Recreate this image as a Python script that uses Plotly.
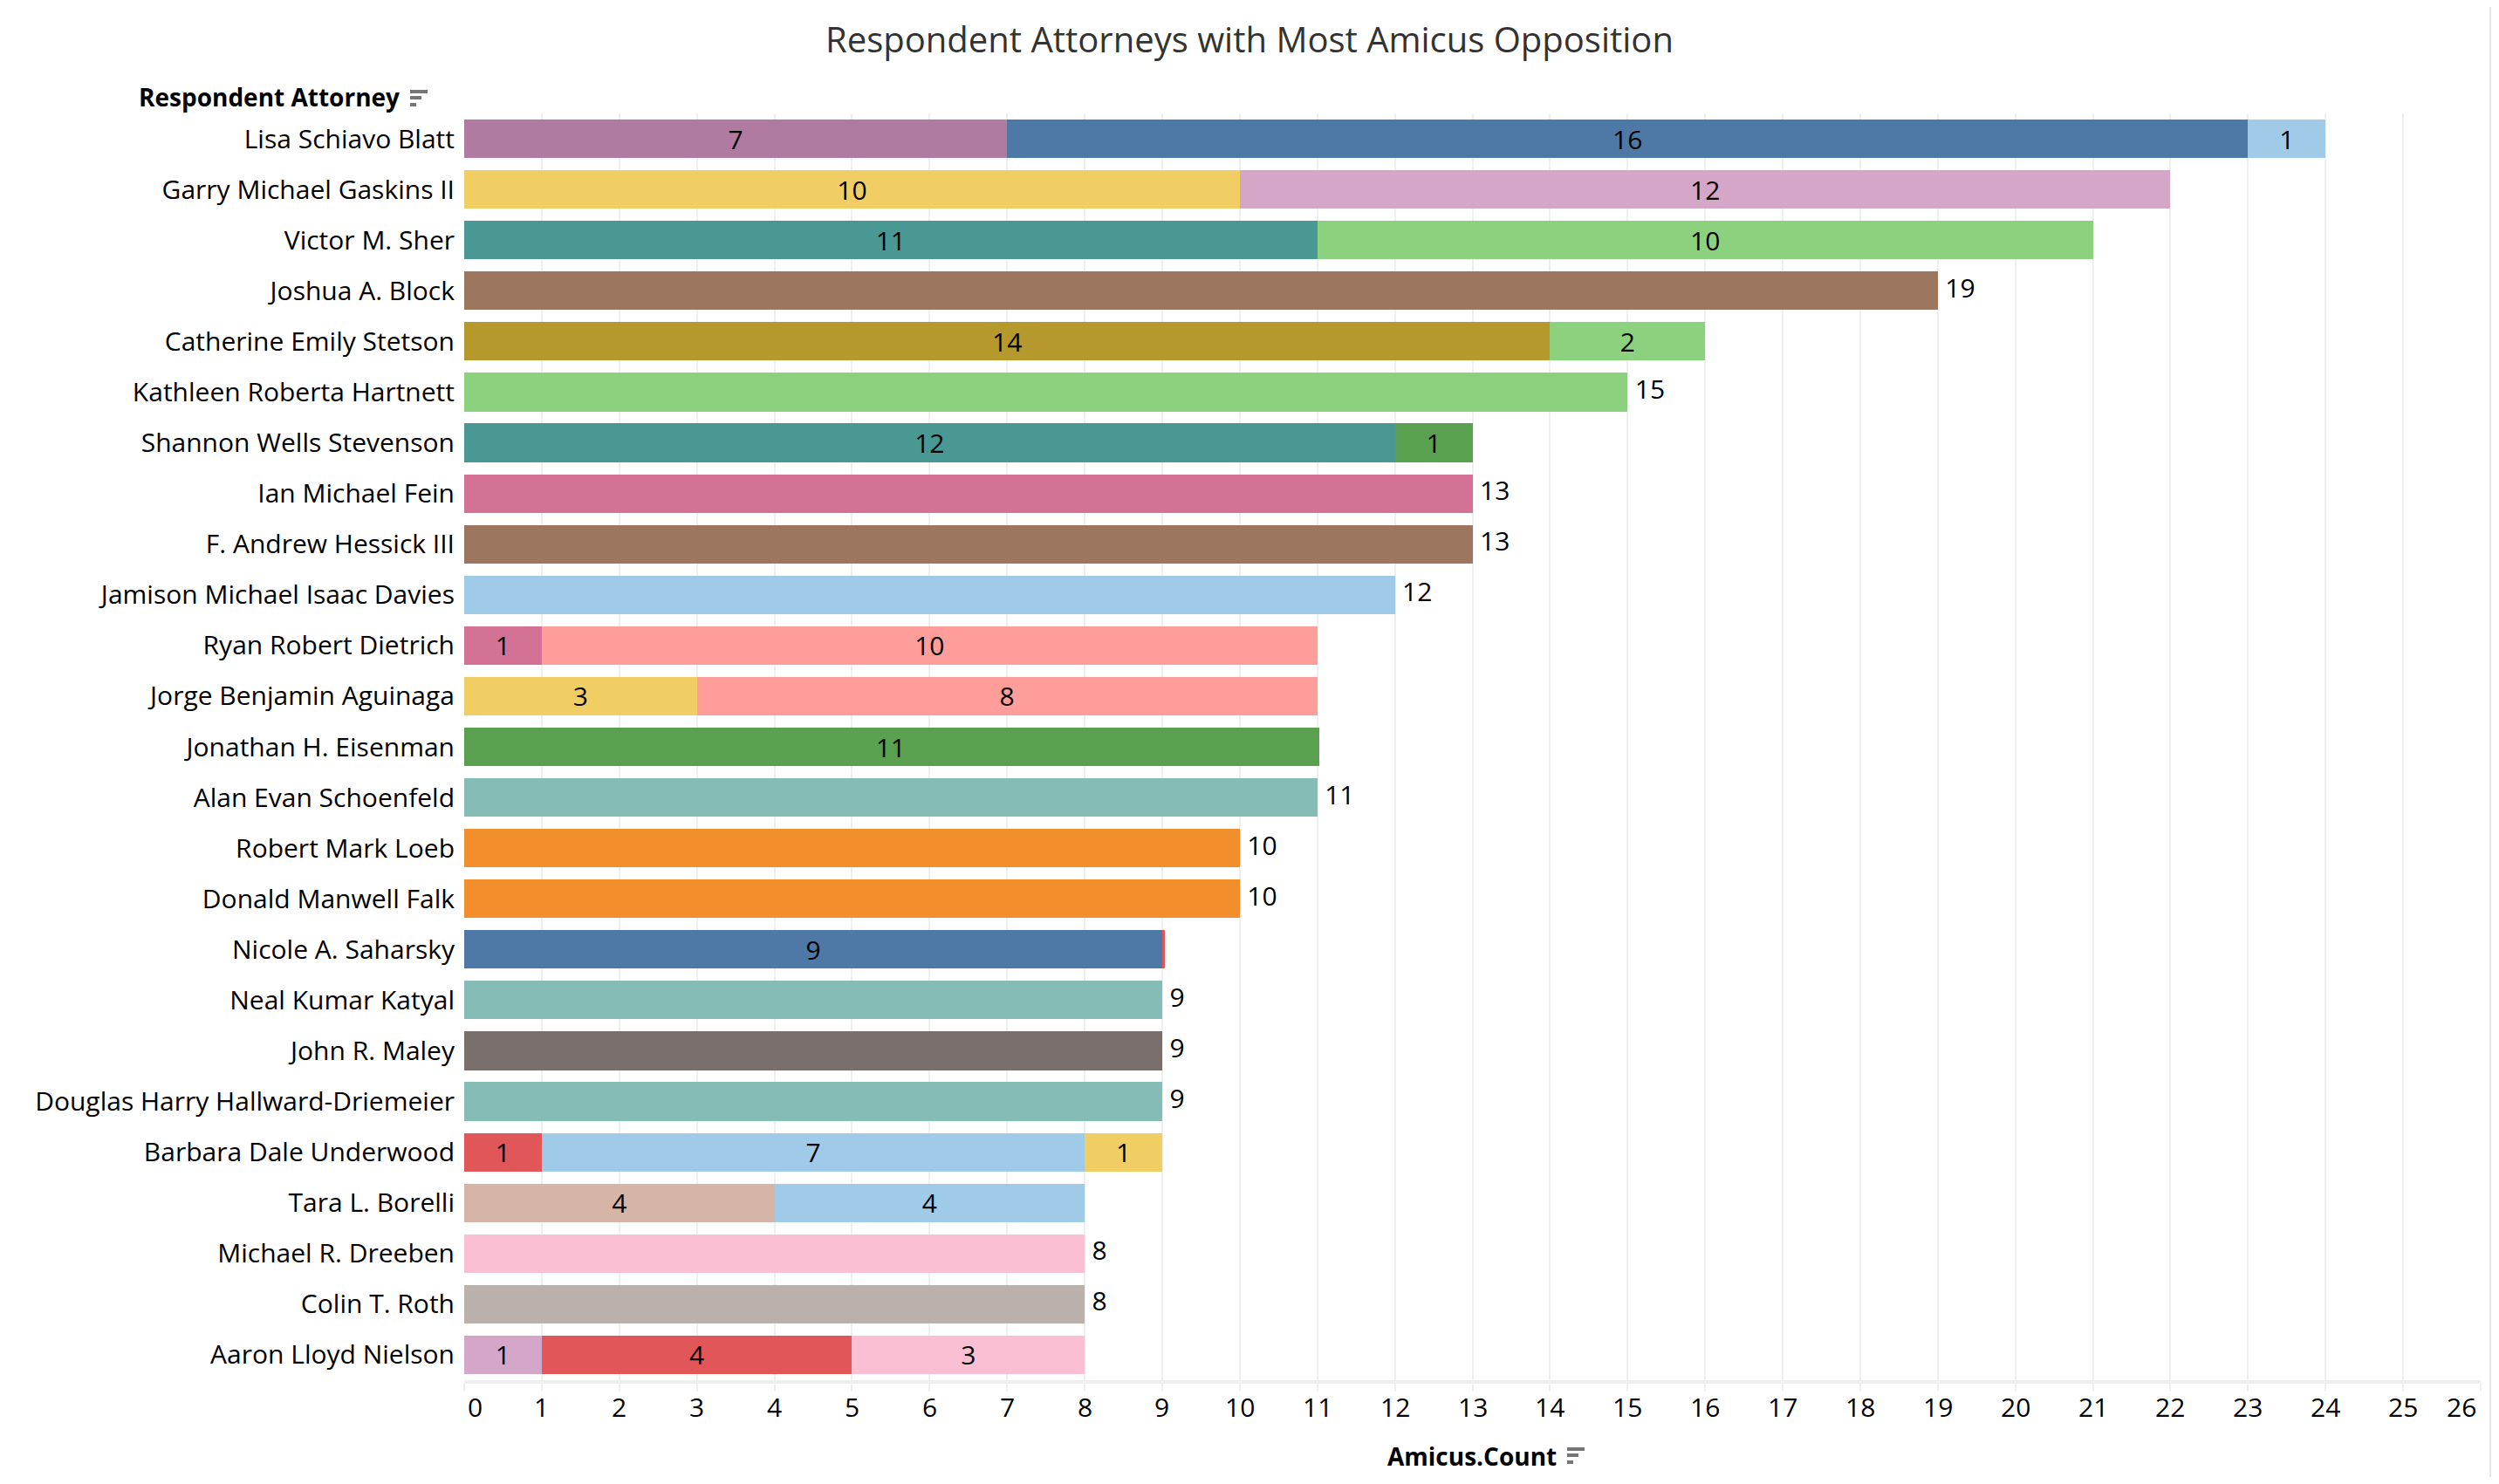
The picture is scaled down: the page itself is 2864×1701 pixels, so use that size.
import plotly.graph_objects as go

# ---------------- data ----------------
attorneys = [
    "Lisa Schiavo Blatt", "Garry Michael Gaskins II", "Victor M. Sher", "Joshua A. Block",
    "Catherine Emily Stetson", "Kathleen Roberta Hartnett", "Shannon Wells Stevenson",
    "Ian Michael Fein", "F. Andrew Hessick III", "Jamison Michael Isaac Davies",
    "Ryan Robert Dietrich", "Jorge Benjamin Aguinaga", "Jonathan H. Eisenman",
    "Alan Evan Schoenfeld", "Robert Mark Loeb", "Donald Manwell Falk", "Nicole A. Saharsky",
    "Neal Kumar Katyal", "John R. Maley", "Douglas Harry Hallward-Driemeier",
    "Barbara Dale Underwood", "Tara L. Borelli", "Michael R. Dreeben", "Colin T. Roth",
    "Aaron Lloyd Nielson",
]
segment_1 = [7, 10, 11, 19, 14, 15, 12, 13, 13, 12, 1, 3, 11, 11, 10, 10, 9, 9, 9, 9, 1, 4, 8, 8, 1]
segment_2 = [16, 12, 10, None, 2, None, 1, None, None, None, 10, 8, None, None, None, None,
             None, None, None, None, 7, 4, None, None, 4]
segment_3 = [1, None, None, None, None, None, None, None, None, None, None, None, None, None,
             None, None, None, None, None, None, 1, None, None, None, 3]
# hair-thin trailing segments visible at the end of two bars
segment_4 = [None, None, None, None, None, None, None, None, None, None, None, None, 0.03, None,
             None, None, 0.03, None, None, None, None, None, None, None, None]

# Tableau-20 style colours of each segment
colors_1 = ["#B07AA1", "#F1CE63", "#499894", "#9D7660", "#B6992D", "#8CD17D", "#499894",
            "#D37295", "#9D7660", "#A0CBE8", "#D37295", "#F1CE63", "#59A14F", "#86BCB6",
            "#F28E2B", "#F28E2B", "#4E79A7", "#86BCB6", "#79706E", "#86BCB6", "#E15759",
            "#D7B5A6", "#FABFD2", "#BAB0AC", "#D4A6C8"]
colors_2 = ["#4E79A7", "#D4A6C8", "#8CD17D", "#FFFFFF", "#8CD17D", "#FFFFFF", "#59A14F",
            "#FFFFFF", "#FFFFFF", "#FFFFFF", "#FF9D9A", "#FF9D9A", "#FFFFFF", "#FFFFFF",
            "#FFFFFF", "#FFFFFF", "#FFFFFF", "#FFFFFF", "#FFFFFF", "#FFFFFF", "#A0CBE8",
            "#A0CBE8", "#FFFFFF", "#FFFFFF", "#E15759"]
colors_3 = ["#A0CBE8"] + ["#FFFFFF"] * 19 + ["#F1CE63", "#FFFFFF", "#FFFFFF", "#FFFFFF", "#FABFD2"]
colors_4 = ["#FFFFFF"] * 12 + ["#59A14F"] + ["#FFFFFF"] * 3 + ["#E15759"] + ["#FFFFFF"] * 8

TITLE = "Respondent Attorneys with Most Amicus Opposition"
Y_TITLE = "Respondent Attorney"
X_TITLE = "Amicus.Count"
x_ticks = list(range(0, 27))

# ---------------- layout constants (figure pixels; page has an 8px body margin) ----------------
W, H = 2848, 1685
L, R, T, B = 524, 13, 122, 111
PW, PH = W - L - R, H - T - B
FONT = "Open Sans"
LABEL_SIZE = 30
AXIS_TITLE_SIZE = 28
TICK_LABEL_Y = 1604


def px_x(px):
    return (px - L) / PW


def px_y(py):
    return 1 - (py - T) / PH


segments = [segment_1, segment_2, segment_3, segment_4]
seg_colors = [colors_1, colors_2, colors_3, colors_4]

n_parts = [sum(1 for s in segments if s[i] is not None) for i in range(len(attorneys))]
totals = [sum(s[i] for s in segments if s[i] is not None) for i in range(len(attorneys))]

fig = go.Figure()
for k, (seg, cols) in enumerate(zip(segments, seg_colors)):
    texts = []
    for i, v in enumerate(seg):
        if v is not None and n_parts[i] > 1 and v >= 1:
            texts.append(str(int(v)))
        else:
            texts.append("")
    fig.add_trace(go.Bar(
        y=attorneys, x=seg, orientation="h",
        marker=dict(color=cols, line=dict(width=0)),
        text=texts, textposition="inside", insidetextanchor="middle",
        textangle=0, constraintext="none",
        textfont=dict(family=FONT, size=LABEL_SIZE, color="#000000"),
        width=0.76, showlegend=False, hoverinfo="x+y",
    ))

# value labels at the end of single-part bars
out_x = [totals[i] for i in range(len(attorneys)) if n_parts[i] == 1]
out_y = [attorneys[i] for i in range(len(attorneys)) if n_parts[i] == 1]
out_t = [str(int(totals[i])) for i in range(len(attorneys)) if n_parts[i] == 1]
fig.add_trace(go.Scatter(
    x=out_x, y=out_y, text=out_t, mode="markers+text", textposition="middle right",
    marker=dict(size=12, opacity=0), cliponaxis=False,
    textfont=dict(family=FONT, size=LABEL_SIZE, color="#000000"),
    showlegend=False, hoverinfo="skip",
))

fig.update_layout(
    width=W, height=H,
    margin=dict(l=L, r=R, t=T, b=B, autoexpand=False),
    barmode="stack", bargap=0.24,
    plot_bgcolor="#FFFFFF", paper_bgcolor="#FFFFFF",
    font=dict(family=FONT, size=LABEL_SIZE, color="#000000"),
    title=dict(text=TITLE, x=0.5, xanchor="center", xref="container", y=1 - 38 / H, yanchor="middle",
               yref="container", font=dict(family=FONT, size=40, color="#333333")),
    xaxis=dict(
        range=[x_ticks[0], x_ticks[-1]], tickvals=x_ticks,
        ticktext=[""] * len(x_ticks),
        showgrid=True, gridcolor="#EFEFEF", gridwidth=2,
        zeroline=False, showline=True, linecolor="#EEEEEE", linewidth=4,
        ticks="outside", ticklen=9, tickcolor="#EFEFEF", tickwidth=2,
        fixedrange=True,
    ),
    yaxis=dict(
        autorange="reversed", categoryorder="array", categoryarray=attorneys,
        showgrid=False, zeroline=False, showline=False, ticks="",
        ticklabelstandoff=10,
        tickfont=dict(family=FONT, size=LABEL_SIZE, color="#000000"),
        fixedrange=True,
    ),
)

# x tick labels (edge labels pulled inward, as in the original)
for v in x_ticks:
    if v == x_ticks[0]:
        anchor, shift = "left", 2
    elif v == x_ticks[-1]:
        anchor, shift = "right", -3
    else:
        anchor, shift = "center", 0
    fig.add_annotation(text=str(v), xref="x", yref="paper", x=v, y=px_y(TICK_LABEL_Y),
                       xanchor=anchor, yanchor="middle", xshift=shift, showarrow=False,
                       font=dict(family=FONT, size=LABEL_SIZE, color="#000000"))

fig.add_annotation(text="<b>" + Y_TITLE + "</b>", xref="paper", yref="paper",
                   x=px_x(452), y=px_y(103), xanchor="right", yanchor="middle",
                   showarrow=False, font=dict(family=FONT, size=AXIS_TITLE_SIZE, color="#000000"))
fig.add_annotation(text="<b>" + X_TITLE + "</b>", xref="paper", yref="paper",
                   x=px_x(1679), y=px_y(1661), xanchor="center", yanchor="middle",
                   showarrow=False, font=dict(family=FONT, size=AXIS_TITLE_SIZE, color="#000000"))


def sort_icon(x0, y0):
    # three stacked bars of decreasing length (decorative sort glyph)
    for dy, length in [(0, 20), (7, 13), (15, 7)]:
        fig.add_shape(type="rect", xref="paper", yref="paper",
                      x0=px_x(x0), x1=px_x(x0 + length),
                      y0=px_y(y0 + dy), y1=px_y(y0 + dy + 4),
                      fillcolor="#767676", line=dict(width=0), layer="above")


sort_icon(462, 95)
sort_icon(1788, 1651)

# right page border
fig.add_shape(type="line", xref="paper", yref="paper", x0=px_x(2846), x1=px_x(2846),
              y0=px_y(0), y1=px_y(H), line=dict(color="#E6E6E6", width=2))

fig.write_html("out.html")
